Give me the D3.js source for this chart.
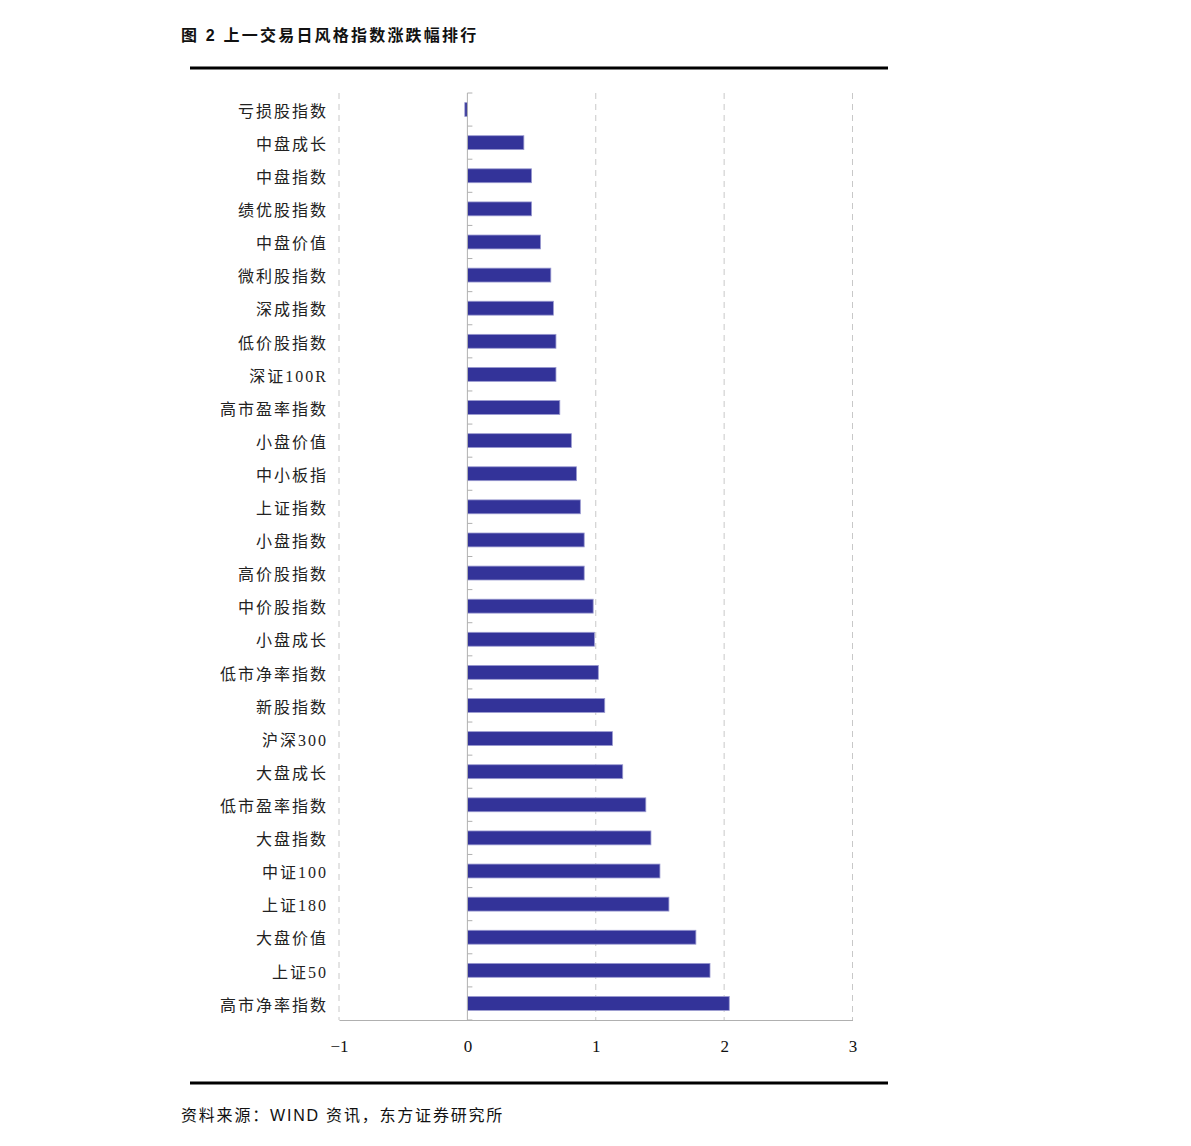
<!DOCTYPE html>
<html>
<head>
<meta charset="utf-8">
<script src="https://cdn.jsdelivr.net/npm/d3@7"></script>
<style>
  body { margin: 0; background: #fff; }
  svg { display: block; }
</style>
</head>
<body>
<script>
// categories top to bottom, values in %
const categories = ["亏损股指数", "中盘成长", "中盘指数", "绩优股指数", "中盘价值", "微利股指数",
  "深成指数", "低价股指数", "深证100R", "高市盈率指数", "小盘价值", "中小板指", "上证指数",
  "小盘指数", "高价股指数", "中价股指数", "小盘成长", "低市净率指数", "新股指数", "沪深300",
  "大盘成长", "低市盈率指数", "大盘指数", "中证100", "上证180", "大盘价值", "上证50", "高市净率指数"]
const values = [-0.02, 0.44, 0.50, 0.50, 0.57, 0.65, 0.67, 0.69, 0.69, 0.72, 0.81, 0.85, 0.88,
  0.91, 0.91, 0.98, 0.99, 1.02, 1.07, 1.13, 1.21, 1.39, 1.43, 1.50, 1.57, 1.78, 1.89, 2.04]
const xTicks = [-1, 0, 1, 2, 3]

let data_ = categories.map((c, i) => ({name: c, value: values[i]}))

let w = 1191
let h = 1146

let svg = d3.select("body")
            .append("svg")
            .attr("width", w)
            .attr("height", h)

let x = d3.scaleLinear()
          .domain([-1, 3])
          .range([339, 852.5])

let y = d3.scaleBand()
          .domain(categories)
          .range([93, 1020])
          .paddingInner(0.58)
          .paddingOuter(0.29)

// title
svg.append("text")
   .attr("x", 181)
   .attr("y", 41)
   .attr("font-family", "'Liberation Sans', 'Noto Sans CJK SC', sans-serif")
   .attr("font-weight", "bold")
   .attr("font-size", 16)
   .attr("letter-spacing", "2.2px")
   .attr("fill", "#111")
   .text("图 2 上一交易日风格指数涨跌幅排行")

// top and bottom rules
svg.selectAll(".rule")
   .data([68, 1083])
   .enter()
   .append("line")
   .attr("class", "rule")
   .attr("x1", 190)
   .attr("x2", 888)
   .attr("y1", d => d)
   .attr("y2", d => d)
   .attr("stroke", "#000")
   .attr("stroke-width", 3)

// dashed grid
svg.selectAll(".grid")
   .data(xTicks.filter(d => d !== 0))
   .enter()
   .append("line")
   .attr("class", "grid")
   .attr("x1", d => x(d))
   .attr("x2", d => x(d))
   .attr("y1", 93)
   .attr("y2", 1020)
   .attr("stroke", "#c8c8c8")
   .attr("stroke-width", 1)
   .attr("stroke-dasharray", "6,5")

// bottom axis
let xAxis = svg.append("g")
               .attr("transform", "translate(0,1020)")
               .call(d3.axisBottom(x).tickValues(xTicks).tickFormat(d3.format("d")).tickSize(0).tickPadding(20))

xAxis.select(".domain").attr("stroke", "#b0b0b0")
xAxis.selectAll("text")
     .attr("font-family", "'Liberation Serif', serif")
     .attr("font-size", 17)
     .attr("fill", "#111")

// bars
svg.selectAll(".bar")
   .data(data_)
   .enter()
   .append("rect")
   .attr("class", "bar")
   .attr("x", d => x(Math.min(0, d.value)))
   .attr("y", d => y(d.name))
   .attr("width", d => Math.abs(x(d.value) - x(0)))
   .attr("height", y.bandwidth())
   .attr("fill", "#333399")
   .attr("stroke", "#9a9ad0")
   .attr("stroke-width", 0.8)

// zero axis with ticks between categories
svg.append("line")
   .attr("x1", x(0))
   .attr("x2", x(0))
   .attr("y1", 93)
   .attr("y2", 1020)
   .attr("stroke", "#b0b0b0")
   .attr("stroke-width", 1)

svg.selectAll(".ytick")
   .data(d3.range(categories.length + 1))
   .enter()
   .append("line")
   .attr("class", "ytick")
   .attr("x1", x(0))
   .attr("x2", x(0) + 5)
   .attr("y1", i => y.range()[0] + i * y.step())
   .attr("y2", i => y.range()[0] + i * y.step())
   .attr("stroke", "#b0b0b0")
   .attr("stroke-width", 1)

// category labels
svg.selectAll(".label")
   .data(data_)
   .enter()
   .append("text")
   .attr("class", "label")
   .attr("x", 328)
   .attr("y", d => y(d.name) + y.bandwidth() / 2)
   .attr("dy", "0.45em")
   .attr("text-anchor", "end")
   .attr("font-family", "'Liberation Serif', 'Noto Sans CJK SC', serif")
   .attr("font-size", 16)
   .attr("letter-spacing", "2px")
   .attr("fill", "#222")
   .text(d => d.name)

// source note
svg.append("text")
   .attr("x", 181)
   .attr("y", 1121)
   .attr("font-family", "'Liberation Sans', 'Noto Sans CJK SC', sans-serif")
   .attr("font-size", 16)
   .attr("letter-spacing", "1.8px")
   .attr("fill", "#111")
   .text("资料来源：WIND 资讯，东方证券研究所")
</script>
</body>
</html>
